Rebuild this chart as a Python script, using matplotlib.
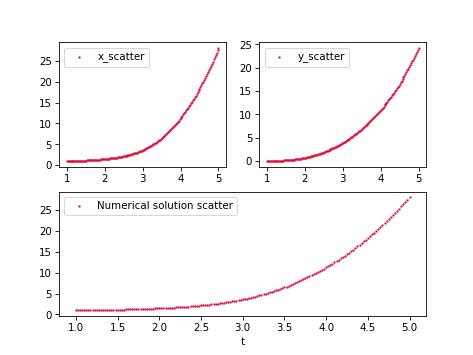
import matplotlib
matplotlib.use("Agg")
import matplotlib.pyplot as plt

# time samples (t from 1 to 5)
t = [1.000, 1.025, 1.050, 1.075, 1.100, 1.125, 1.150, 1.175, 1.200, 1.225,
     1.250, 1.275, 1.300, 1.325, 1.350, 1.375, 1.400, 1.425, 1.450, 1.475,
     1.500, 1.525, 1.550, 1.575, 1.600, 1.625, 1.650, 1.675, 1.700, 1.725,
     1.750, 1.775, 1.800, 1.825, 1.850, 1.875, 1.900, 1.925, 1.950, 1.975,
     2.000, 2.025, 2.050, 2.075, 2.100, 2.125, 2.150, 2.175, 2.200, 2.225,
     2.250, 2.275, 2.300, 2.325, 2.350, 2.375, 2.400, 2.425, 2.450, 2.475,
     2.500, 2.525, 2.550, 2.575, 2.600, 2.625, 2.650, 2.675, 2.700, 2.725,
     2.750, 2.775, 2.800, 2.825, 2.850, 2.875, 2.900, 2.925, 2.950, 2.975,
     3.000, 3.025, 3.050, 3.075, 3.100, 3.125, 3.150, 3.175, 3.200, 3.225,
     3.250, 3.275, 3.300, 3.325, 3.350, 3.375, 3.400, 3.425, 3.450, 3.475,
     3.500, 3.525, 3.550, 3.575, 3.600, 3.625, 3.650, 3.675, 3.700, 3.725,
     3.750, 3.775, 3.800, 3.825, 3.850, 3.875, 3.900, 3.925, 3.950, 3.975,
     4.000, 4.025, 4.050, 4.075, 4.100, 4.125, 4.150, 4.175, 4.200, 4.225,
     4.250, 4.275, 4.300, 4.325, 4.350, 4.375, 4.400, 4.425, 4.450, 4.475,
     4.500, 4.525, 4.550, 4.575, 4.600, 4.625, 4.650, 4.675, 4.700, 4.725,
     4.750, 4.775, 4.800, 4.825, 4.850, 4.875, 4.900, 4.925, 4.950, 4.975,
     5.000]

# x(t)
x_vals = [1.00, 1.00, 1.00, 1.00, 1.01, 1.01, 1.01, 1.01, 1.02, 1.02,
          1.03, 1.04, 1.05, 1.06, 1.07, 1.08, 1.09, 1.10, 1.11, 1.12,
          1.14, 1.15, 1.16, 1.17, 1.19, 1.20, 1.22, 1.23, 1.25, 1.26,
          1.28, 1.30, 1.32, 1.34, 1.36, 1.38, 1.40, 1.42, 1.44, 1.46,
          1.48, 1.50, 1.53, 1.55, 1.58, 1.60, 1.63, 1.66, 1.69, 1.72,
          1.75, 1.78, 1.82, 1.85, 1.89, 1.93, 1.97, 2.01, 2.06, 2.10,
          2.15, 2.20, 2.25, 2.30, 2.36, 2.42, 2.48, 2.54, 2.61, 2.68,
          2.75, 2.82, 2.90, 2.97, 3.05, 3.13, 3.22, 3.31, 3.40, 3.50,
          3.60, 3.70, 3.80, 3.91, 4.03, 4.16, 4.29, 4.42, 4.56, 4.70,
          4.84, 4.99, 5.14, 5.29, 5.45, 5.62, 5.79, 5.96, 6.13, 6.31,
          6.49, 6.68, 6.87, 7.08, 7.29, 7.50, 7.72, 7.94, 8.16, 8.39,
          8.63, 8.87, 9.11, 9.36, 9.62, 9.88, 10.15, 10.42, 10.70, 10.98,
          11.27, 11.56, 11.86, 12.16, 12.47, 12.79, 13.11, 13.44, 13.77, 14.11,
          14.45, 14.81, 15.17, 15.54, 15.91, 16.30, 16.69, 17.09, 17.49, 17.90,
          18.32, 18.74, 19.15, 19.58, 20.02, 20.47, 20.91, 21.38, 21.85, 22.33,
          22.81, 23.30, 23.80, 24.31, 24.82, 25.35, 25.88, 26.42, 26.95, 27.50,
          28.05]

# y(t)
y_vals = [0.00, 0.00, 0.00, 0.00, 0.01, 0.01, 0.02, 0.02, 0.03, 0.04,
          0.05, 0.06, 0.07, 0.08, 0.09, 0.10, 0.11, 0.12, 0.13, 0.14,
          0.15, 0.16, 0.18, 0.20, 0.22, 0.24, 0.26, 0.28, 0.30, 0.32,
          0.35, 0.38, 0.41, 0.44, 0.47, 0.50, 0.54, 0.57, 0.61, 0.65,
          0.70, 0.74, 0.79, 0.84, 0.89, 0.94, 0.99, 1.04, 1.10, 1.15,
          1.21, 1.27, 1.33, 1.39, 1.46, 1.53, 1.60, 1.67, 1.74, 1.82,
          1.90, 1.98, 2.06, 2.14, 2.23, 2.32, 2.41, 2.50, 2.60, 2.70,
          2.80, 2.90, 3.00, 3.10, 3.21, 3.32, 3.43, 3.54, 3.66, 3.78,
          3.90, 4.02, 4.15, 4.28, 4.41, 4.54, 4.68, 4.82, 4.96, 5.11,
          5.26, 5.41, 5.57, 5.73, 5.89, 6.05, 6.22, 6.38, 6.55, 6.72,
          6.90, 7.08, 7.26, 7.44, 7.63, 7.82, 8.01, 8.20, 8.40, 8.60,
          8.80, 9.00, 9.20, 9.40, 9.61, 9.82, 10.03, 10.24, 10.46, 10.68,
          10.90, 11.15, 11.40, 11.65, 11.91, 12.17, 12.44, 12.71, 12.98, 13.26,
          13.54, 13.82, 14.10, 14.38, 14.67, 14.96, 15.26, 15.56, 15.86, 16.18,
          16.50, 16.85, 17.20, 17.56, 17.92, 18.29, 18.66, 19.03, 19.41, 19.79,
          20.18, 20.57, 20.96, 21.35, 21.75, 22.15, 22.55, 22.95, 23.36, 23.78,
          24.20]

dot_color = "crimson"
dot_size = 1.5

fig = plt.figure(figsize=(6.4, 4.8), dpi=74)

# top left: x
ax1 = fig.add_subplot(2, 2, 1)
ax1.scatter(t, x_vals, s=dot_size, c=dot_color, label="x_scatter")
ax1.legend(loc="upper left")

# top right: y
ax2 = fig.add_subplot(2, 2, 2)
ax2.scatter(t, y_vals, s=dot_size, c=dot_color, label="y_scatter")
ax2.legend(loc="upper left")

# bottom: the numerical solution over t
ax3 = fig.add_subplot(2, 1, 2)
ax3.scatter(t, x_vals, s=dot_size, c=dot_color, label="Numerical solution scatter")
ax3.set_xlabel("t")
ax3.legend(loc="upper left")

plt.savefig("out.png", dpi=74)
